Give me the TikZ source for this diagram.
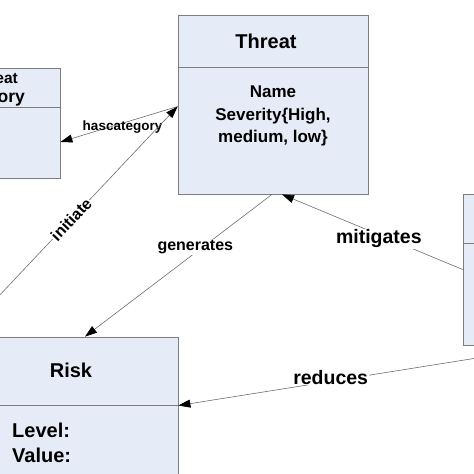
\documentclass[tikz,border=0pt]{standalone}
\usepackage{fontspec}
\setmainfont{Liberation Sans}
\usetikzlibrary{arrows.meta,positioning,calc}
\definecolor{boxblue}{RGB}{230,236,247}
\definecolor{boxline}{RGB}{125,125,125}
\tikzset{
	my box/.style = {rectangle, draw=boxline, fill=boxblue, line width=0.8pt, inner sep=0pt},% class box, the text is put in by separate nodes
	my line/.style = {draw=boxline, line width=0.8pt},
	my edge/.style = {-{Triangle[length=12pt,width=8pt,color=black]}, draw=gray!85!black, line width=0.6pt},
	my title/.style = {font=\bfseries\fontsize{20}{24}\selectfont, align=center},
	small label/.style = {font=\bfseries\fontsize{13.5}{16}\selectfont, inner sep=1pt},
	my label/.style = {font=\bfseries\fontsize{16}{19}\selectfont, fill=white, inner sep=1pt},
	big label/.style = {font=\bfseries\fontsize{19.5}{23}\selectfont, fill=white, inner sep=1pt}
}
\begin{document}
\begin{tikzpicture}[x=1pt,y=-1pt]
	\useasboundingbox (0,0) rectangle (474,474);
	\clip (0,0) rectangle (474,474);
	% class boxes
	\node[my box, minimum width=190pt, minimum height=179pt] (threat) at (273,104.5) {};
	\node[my box, minimum width=142pt, minimum height=110pt] (category) at (-11,123) {};
	\node[my box, minimum width=214pt, minimum height=153pt] (risk) at (71,413.5) {};
	\node[my box, minimum width=137pt, minimum height=151pt] (control) at (531.5,269.5) {};
	\draw[my line] ([yshift=-53pt]threat.north west) -- ([yshift=-53pt]threat.north east);
	\draw[my line] ([yshift=-40pt]category.north west) -- ([yshift=-40pt]category.north east);
	\draw[my line] ([yshift=-69pt]risk.north west) -- ([yshift=-69pt]risk.north east);
	\draw[my line] ([yshift=-50pt]control.north west) -- ([yshift=-50pt]control.north east);
	% texts
	\node[my title] (threat title) at (266,41) {Threat};
	\node[font=\bfseries\fontsize{17}{22.5}\selectfont, align=center] (threat attr) at (273,116) {Name\\Severity\{High,\\medium, low\}};
	\node[font=\bfseries\fontsize{15.5}{18}\selectfont, anchor=east, inner sep=0pt] (category title1) at (18,78) {Threat};
	\node[font=\bfseries\fontsize{17.5}{20}\selectfont, anchor=east, inner sep=0pt] (category title2) at (25,98) {Category};
	\node[my title] (risk title) at (71,370) {Risk};
	\node[font=\bfseries\fontsize{20}{25}\selectfont, align=left, anchor=west, inner sep=0pt] (risk attr) at (12,443) {Level:\\Value:};
	% connectors
	\coordinate (attacker) at (-3,298);
	\coordinate (countermeasure) at (477,358);
	\draw[my edge] ([yshift=-2pt]threat.west) -- node[small label, pos=0.47, yshift=-4pt]{hascategory} ([yshift=-19pt]category.east);
	\draw[my edge] (attacker) -- node[my label, sloped, pos=0.41]{initiate} ([yshift=-2pt]threat.west);
	\draw[my edge] ([xshift=-1pt]threat.south) -- node[my label, pos=0.41, yshift=6pt]{generates} ([xshift=14pt]risk.north);
	\draw[my edge] (control.west) -- node[big label, pos=0.464, yshift=-4pt]{mitigates} ([xshift=9pt]threat.south);
	\draw[my edge] (countermeasure) -- node[big label, pos=0.49, yshift=4pt]{reduces} ([yshift=8pt]risk.east);
\end{tikzpicture}
\end{document}
